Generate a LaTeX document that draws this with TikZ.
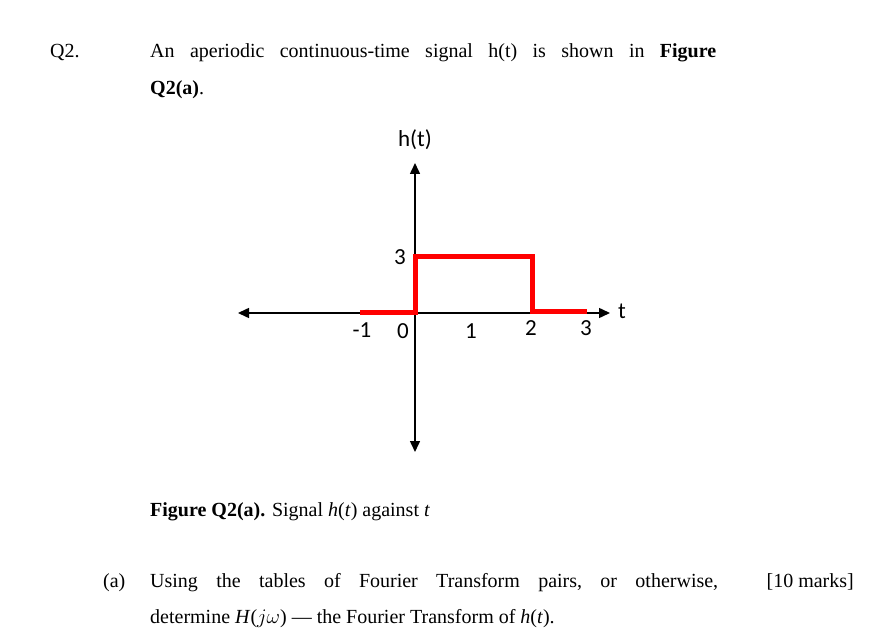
\documentclass[tikz,border=0pt]{standalone}
\usepackage{fontspec}
\setmainfont{Liberation Serif}
\newfontfamily\gfont{Carlito}
\usetikzlibrary{arrows.meta}
\begin{document}
\begin{tikzpicture}[x=1pt,y=-1pt,
  txt/.style={anchor=base west,inner sep=0pt,font=\fontsize{20}{24}\selectfont},
  gl/.style={inner sep=0pt,font=\gfont\fontsize{23}{26}\selectfont},
  ax/.style={line width=1.5pt,-{Triangle[length=11pt,width=10pt]}},
  sig/.style={red,line width=5pt}]
\useasboundingbox (0,0) rectangle (883,639);
\node[txt] (q) at (50,58) {Q2.};
\node[txt] (l1) at (150,58) {\makebox[566pt][s]{An\hfill aperiodic\hfill continuous-time\hfill signal\hfill h(t)\hfill is\hfill shown\hfill in\hfill \textbf{Figure}}};
\node[txt] (l2) at (150,95) {\textbf{Q2(a)}.};
\coordinate (o) at (415,313);
\coordinate (xl) at (238,313);
\coordinate (xr) at (610,313);
\coordinate (yt) at (415,163);
\coordinate (yb) at (415,452);
\draw[ax] (o) -- (xl);
\draw[ax] (o) -- (xr);
\draw[ax] (o) -- (yt);
\draw[ax] (o) -- (yb);
\draw[sig] (360,312) -- (415,312) -- (415,256) -- (532,256) -- (532,311) -- (587,311);
\node[gl] (ht) at (415,140) {h(t)};
\node[gl] (t) at (622,311) {t};
\node[gl] (y3) at (400,257) {3};
\node[gl] (m1) at (362,330) {-1};
\node[gl] (z) at (403,331) {0};
\node[gl] (n1) at (471,331) {1};
\node[gl] (n2) at (531,328) {2};
\node[gl] (n3) at (586,328) {3};
\node[txt] (cap) at (150,516) {\textbf{Figure Q2(a).} Signal \textit{h}(\textit{t}) against \textit{t}};
\node[txt] (a) at (103,587) {(a)};
\node[txt] (a1) at (150,587) {\makebox[568pt][s]{Using\hfill the\hfill tables\hfill of\hfill Fourier\hfill Transform\hfill pairs,\hfill or\hfill otherwise,}};
\node[txt,anchor=base east] (mk) at (854,587) {[10 marks]};
\node[txt] (a2) at (150,623) {determine \textit{H}($j\omega$) --- the Fourier Transform of \textit{h}(\textit{t}).};
\end{tikzpicture}
\end{document}
